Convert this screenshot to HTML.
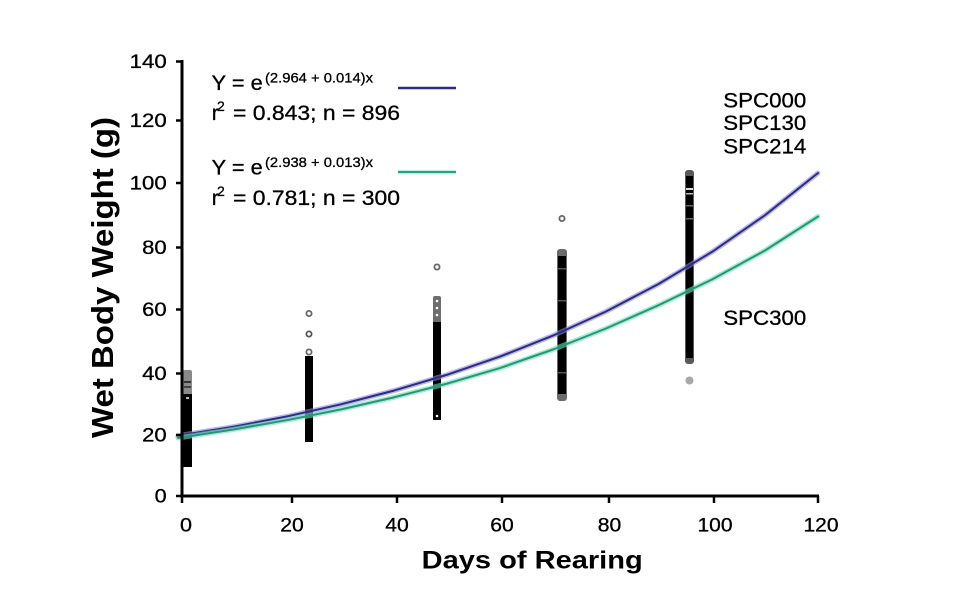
<!DOCTYPE html>
<html>
<head>
<meta charset="utf-8">
<style>
  html, body { margin:0; padding:0; background:#fff; }
  svg { display:block; }
  text { font-family: "Liberation Sans", Arial, sans-serif; fill:#000; }
  .r { stroke:#000; stroke-width:0.3; }
  .b { font-weight:bold; }
</style>
</head>
<body>
<svg width="960" height="597" viewBox="0 0 960 597" xmlns="http://www.w3.org/2000/svg">
  <rect x="0" y="0" width="960" height="597" fill="#fff"/>

  <!-- Bar 1 -->
  <rect x="183" y="370" width="9" height="26" rx="2" fill="#8a8a8a"/>
  <rect x="184" y="381" width="7" height="2" fill="#333"/>
  <rect x="184" y="386" width="7" height="2" fill="#444"/>
  <rect x="183" y="394" width="9" height="73" fill="#000"/>
  <rect x="186" y="397" width="3" height="2" fill="#bbb"/>

  <!-- Bar 2 -->
  <rect x="305" y="356" width="8" height="86" fill="#000"/>
  <circle cx="309" cy="313.5" r="2.6" fill="#fff" stroke="#666" stroke-width="1.8"/>
  <circle cx="309" cy="334" r="2.6" fill="#fff" stroke="#555" stroke-width="1.8"/>
  <circle cx="309" cy="352" r="2.6" fill="#fff" stroke="#666" stroke-width="1.8"/>

  <!-- Bar 3 -->
  <circle cx="437" cy="267" r="2.6" fill="#fff" stroke="#666" stroke-width="1.8"/>
  <rect x="433" y="296" width="8" height="28" rx="2" fill="#6e6e6e"/>
  <circle cx="437" cy="301" r="1.3" fill="#fff"/>
  <circle cx="437" cy="308" r="1.3" fill="#fff"/>
  <circle cx="437" cy="315" r="1.3" fill="#fff"/>
  <rect x="433" y="322" width="8" height="98" fill="#000"/>
  <circle cx="437" cy="416" r="1.3" fill="#fff"/>

  <!-- Bar 4 -->
  <circle cx="562" cy="218.5" r="2.6" fill="#fff" stroke="#666" stroke-width="1.8"/>
  <rect x="557" y="249" width="10" height="152" rx="3" fill="#6a6a6a"/>
  <rect x="558" y="256" width="8" height="138" fill="#000"/>
  <rect x="558" y="268" width="8" height="1.5" fill="#555"/>
  <rect x="558" y="300" width="8" height="1.5" fill="#555"/>
  <rect x="558" y="372" width="8" height="1.5" fill="#555"/>

  <!-- Bar 5 -->
  <rect x="685" y="170" width="9" height="194" rx="3" fill="#5a5a5a"/>
  <rect x="686" y="176" width="7" height="182" fill="#000"/>
  <rect x="686" y="188" width="7" height="2" fill="#ddd"/>
  <rect x="686" y="193" width="7" height="1.5" fill="#bbb"/>
  <rect x="686" y="205" width="7" height="1.5" fill="#666"/>
  <rect x="686" y="218" width="7" height="1.5" fill="#666"/>
  <circle cx="689.5" cy="380.5" r="4" fill="#a8a8a8"/>

  <!-- Fitted curves -->
  <g fill="none" stroke-linejoin="round" stroke-linecap="round">
    <polyline stroke="#8d8ad0" stroke-opacity="0.6" stroke-width="5"
      points="178,436 182,435 235,426.5 288,416.2 341,404.3 394,390.6 447,374.77 500,356.56 553,335.6 606,311.5 659,283.78 712,251.89 765,215.21 818,173.01"/>
    <polyline stroke="#2b2a8e" stroke-width="2"
      points="178,436 182,435 235,426.5 288,416.2 341,404.3 394,390.6 447,374.77 500,356.56 553,335.6 606,311.5 659,283.78 712,251.89 765,215.21 818,173.01"/>
    <polyline stroke="#7fd3b5" stroke-opacity="0.6" stroke-width="5"
      points="178,438 182,437.35 235,429.2 288,419.93 341,409.37 394,397.34 447,383.64 500,368.04 553,349.5 606,328.5 659,305 712,279.5 765,250.5 818,216.5"/>
    <polyline stroke="#10a275" stroke-width="2"
      points="178,438 182,437.35 235,429.2 288,419.93 341,409.37 394,397.34 447,383.64 500,368.04 553,349.5 606,328.5 659,305 712,279.5 765,250.5 818,216.5"/>
  </g>

  <!-- Axes -->
  <line x1="182" y1="60" x2="182" y2="497.5" stroke="#000" stroke-width="3"/>
  <line x1="180.5" y1="496" x2="819" y2="496" stroke="#000" stroke-width="3"/>

  <!-- Y ticks -->
  <g stroke="#000" stroke-width="2.5">
    <line x1="176" y1="496" x2="182" y2="496"/>
    <line x1="176" y1="435" x2="182" y2="435"/>
    <line x1="176" y1="373.5" x2="182" y2="373.5"/>
    <line x1="176" y1="309.5" x2="182" y2="309.5"/>
    <line x1="176" y1="247.5" x2="182" y2="247.5"/>
    <line x1="176" y1="183" x2="182" y2="183"/>
    <line x1="176" y1="120.5" x2="182" y2="120.5"/>
    <line x1="176" y1="61.5" x2="182" y2="61.5"/>
  </g>
  <!-- X ticks -->
  <g stroke="#000" stroke-width="2.5">
    <line x1="182" y1="496" x2="182" y2="503"/>
    <line x1="292" y1="496" x2="292" y2="503"/>
    <line x1="397" y1="496" x2="397" y2="503"/>
    <line x1="502" y1="496" x2="502" y2="503"/>
    <line x1="609" y1="496" x2="609" y2="503"/>
    <line x1="714" y1="496" x2="714" y2="503"/>
    <line x1="818" y1="496" x2="818" y2="503"/>
  </g>

  <!-- Y tick labels -->
  <g font-size="19" text-anchor="end" class="r">
    <text class="r" x="166.7" y="502.5" textLength="12" lengthAdjust="spacingAndGlyphs">0</text>
    <text class="r" x="166.7" y="441.7" textLength="24.5" lengthAdjust="spacingAndGlyphs">20</text>
    <text class="r" x="166.7" y="380.2" textLength="24.5" lengthAdjust="spacingAndGlyphs">40</text>
    <text class="r" x="166.7" y="316.2" textLength="24.5" lengthAdjust="spacingAndGlyphs">60</text>
    <text class="r" x="166.7" y="254.2" textLength="24.5" lengthAdjust="spacingAndGlyphs">80</text>
    <text class="r" x="166.7" y="189.7" textLength="37" lengthAdjust="spacingAndGlyphs">100</text>
    <text class="r" x="166.7" y="127.2" textLength="37" lengthAdjust="spacingAndGlyphs">120</text>
    <text class="r" x="166.7" y="68.2" textLength="37" lengthAdjust="spacingAndGlyphs">140</text>
  </g>

  <!-- X tick labels -->
  <g font-size="19" text-anchor="middle">
    <text class="r" x="186" y="531.7" textLength="12" lengthAdjust="spacingAndGlyphs">0</text>
    <text class="r" x="292" y="531.7" textLength="23.5" lengthAdjust="spacingAndGlyphs">20</text>
    <text class="r" x="397" y="531.7" textLength="23.5" lengthAdjust="spacingAndGlyphs">40</text>
    <text class="r" x="502" y="531.7" textLength="23.5" lengthAdjust="spacingAndGlyphs">60</text>
    <text class="r" x="609.5" y="531.7" textLength="23.5" lengthAdjust="spacingAndGlyphs">80</text>
    <text class="r" x="715" y="531.7" textLength="35" lengthAdjust="spacingAndGlyphs">100</text>
    <text class="r" x="821" y="531.7" textLength="35" lengthAdjust="spacingAndGlyphs">120</text>
  </g>

  <!-- Axis titles -->
  <text class="b" x="421.7" y="568.3" font-size="25" textLength="221" lengthAdjust="spacingAndGlyphs">Days of Rearing</text>
  <text class="b" transform="translate(113,438) rotate(-90)" x="0" y="0" font-size="31" textLength="321" lengthAdjust="spacingAndGlyphs">Wet Body Weight (g)</text>

  <!-- Legend -->
  <text class="r" x="211.7" y="90" font-size="21" textLength="51" lengthAdjust="spacingAndGlyphs">Y = e</text>
  <text class="r" x="265" y="82.5" font-size="14" textLength="108" lengthAdjust="spacingAndGlyphs">(2.964 + 0.014)x</text>
  <text class="r" x="211.7" y="120" font-size="21">r</text>
  <text class="r" x="217" y="111" font-size="14">2</text>
  <text class="r" x="233" y="120" font-size="21" textLength="167" lengthAdjust="spacingAndGlyphs">= 0.843; n = 896</text>
  <line x1="398" y1="88" x2="456" y2="88" stroke="#2b2a8e" stroke-width="2.5"/>

  <text class="r" x="211.7" y="174.3" font-size="21" textLength="51" lengthAdjust="spacingAndGlyphs">Y = e</text>
  <text class="r" x="265" y="166.8" font-size="14" textLength="108" lengthAdjust="spacingAndGlyphs">(2.938 + 0.013)x</text>
  <text class="r" x="211.7" y="205" font-size="21">r</text>
  <text class="r" x="217" y="196" font-size="14">2</text>
  <text class="r" x="233" y="205" font-size="21" textLength="167" lengthAdjust="spacingAndGlyphs">= 0.781; n = 300</text>
  <line x1="398" y1="172" x2="456" y2="172" stroke="#10b07e" stroke-width="2.5"/>

  <!-- Series labels -->
  <g font-size="21">
    <text class="r" x="723.3" y="107.3" textLength="83" lengthAdjust="spacingAndGlyphs">SPC000</text>
    <text class="r" x="723.3" y="130" textLength="83" lengthAdjust="spacingAndGlyphs">SPC130</text>
    <text class="r" x="723.3" y="153.3" textLength="83" lengthAdjust="spacingAndGlyphs">SPC214</text>
    <text class="r" x="723.3" y="325" textLength="83" lengthAdjust="spacingAndGlyphs">SPC300</text>
  </g>
</svg>
</body>
</html>
